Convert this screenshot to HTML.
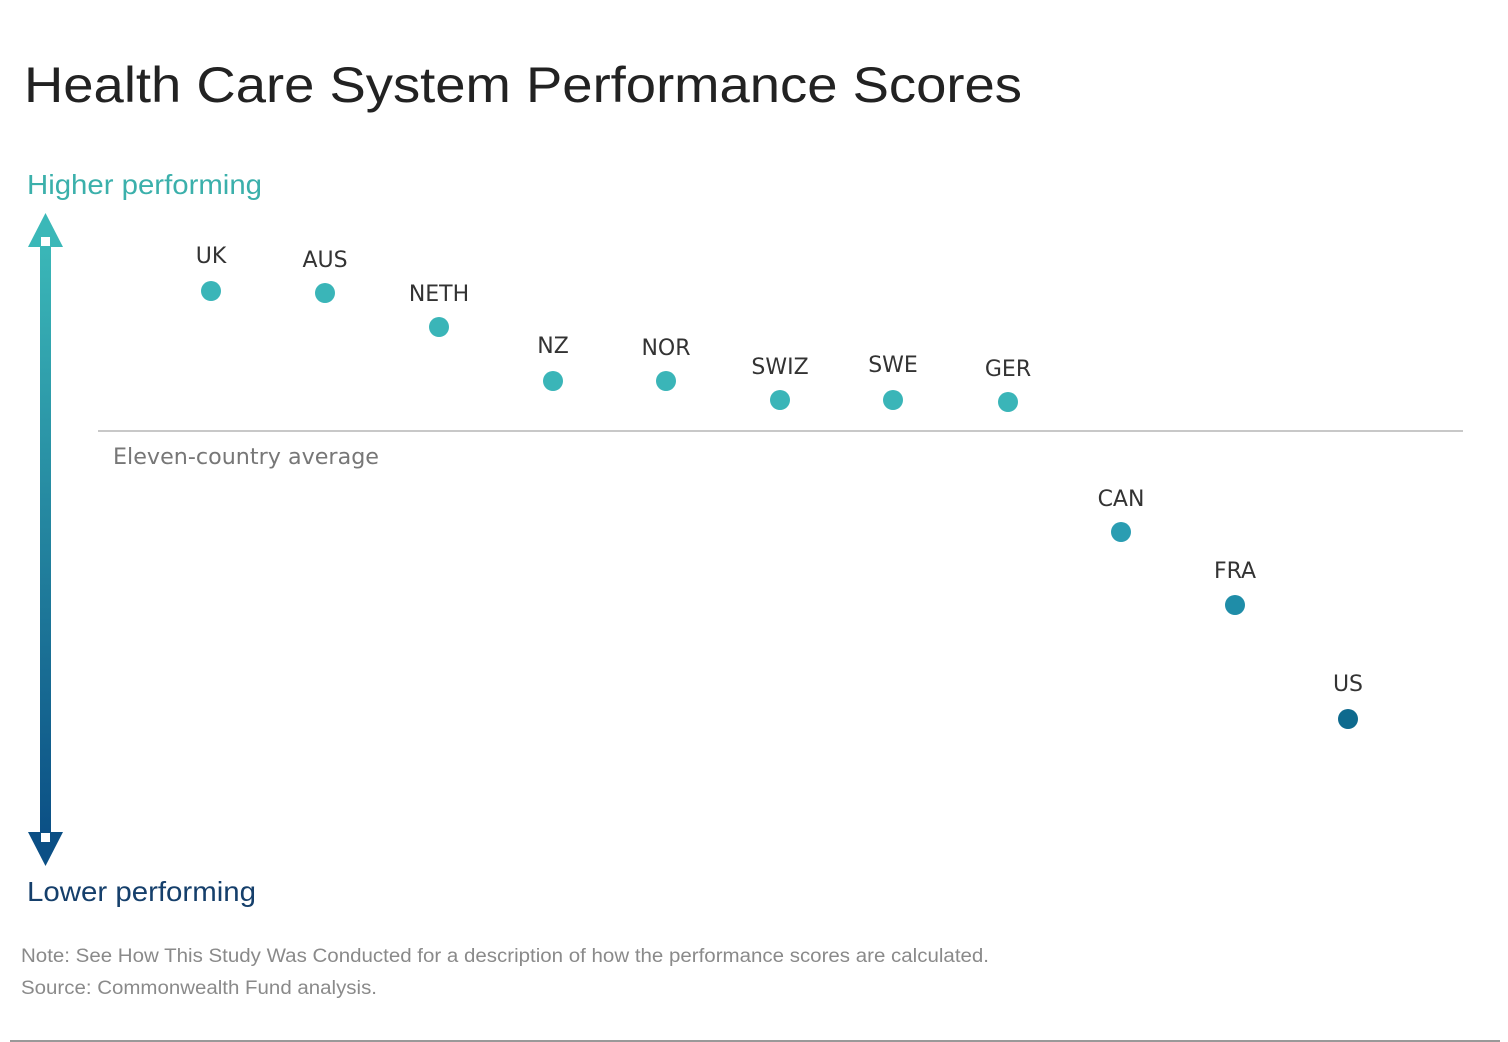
<!DOCTYPE html>
<html><head><meta charset="utf-8"><style>
html,body{margin:0;padding:0;background:#fff;}
svg{display:block;}
</style></head><body>
<svg width="1508" height="1042" viewBox="0 0 1508 1042" xmlns="http://www.w3.org/2000/svg">
<defs>
<linearGradient id="g" x1="0" y1="0" x2="0" y2="1">
<stop offset="0" stop-color="#3bb8b8"/>
<stop offset="1" stop-color="#0b4f85"/>
</linearGradient>
</defs>
<rect width="1508" height="1042" fill="#fff"/>
<text x="24" y="102" font-family="Liberation Sans, sans-serif" font-size="50" fill="#222" textLength="998" lengthAdjust="spacingAndGlyphs">Health Care System Performance Scores</text>
<text x="27" y="194" font-family="Liberation Sans, sans-serif" font-size="28" fill="#3bb0ab" textLength="235" lengthAdjust="spacingAndGlyphs">Higher performing</text>
<text x="27" y="901" font-family="Liberation Sans, sans-serif" font-size="28" fill="#153f6b" textLength="229" lengthAdjust="spacingAndGlyphs">Lower performing</text>
<rect x="40" y="240" width="11" height="598" fill="url(#g)"/>
<polygon points="45.5,213 63,247 28,247" fill="#3bb8b8"/>
<rect x="41" y="237" width="9" height="9" fill="#fff"/>
<polygon points="45.5,866 63,832 28,832" fill="#0b4f85"/>
<rect x="41" y="833" width="9" height="9" fill="#fff"/>
<line x1="98" y1="431" x2="1463" y2="431" stroke="#c8c8c8" stroke-width="2"/>
<text x="113" y="464" font-family="DejaVu Sans, sans-serif" font-size="22" fill="#777" textLength="266" lengthAdjust="spacingAndGlyphs">Eleven-country average</text>
<g font-family="DejaVu Sans, sans-serif" font-size="22" fill="#333" text-anchor="middle">
<text x="211" y="263">UK</text><circle cx="211" cy="291" r="10" fill="#3ab5b8"/>
<text x="325" y="267">AUS</text><circle cx="325" cy="293" r="10" fill="#3ab5b8"/>
<text x="439" y="301">NETH</text><circle cx="439" cy="327" r="10" fill="#3ab5b8"/>
<text x="553" y="353">NZ</text><circle cx="553" cy="381" r="10" fill="#3ab5b8"/>
<text x="666" y="355">NOR</text><circle cx="666" cy="381" r="10" fill="#3ab5b8"/>
<text x="780" y="374">SWIZ</text><circle cx="780" cy="400" r="10" fill="#3ab5b8"/>
<text x="893" y="372">SWE</text><circle cx="893" cy="400" r="10" fill="#3ab5b8"/>
<text x="1008" y="376">GER</text><circle cx="1008" cy="402" r="10" fill="#3ab5b8"/>
<text x="1121" y="506">CAN</text><circle cx="1121" cy="532" r="10" fill="#2a9db2"/>
<text x="1235" y="578">FRA</text><circle cx="1235" cy="605" r="10" fill="#1f8da8"/>
<text x="1348" y="691">US</text><circle cx="1348" cy="719" r="10" fill="#0e6a8e"/>
</g>
<text x="21" y="962" font-family="Liberation Sans, sans-serif" font-size="19" fill="#8a8a8a" textLength="968" lengthAdjust="spacingAndGlyphs">Note: See How This Study Was Conducted for a description of how the performance scores are calculated.</text>
<text x="21" y="994" font-family="Liberation Sans, sans-serif" font-size="19" fill="#8a8a8a" textLength="356" lengthAdjust="spacingAndGlyphs">Source: Commonwealth Fund analysis.</text>
<line x1="10" y1="1041" x2="1500" y2="1041" stroke="#999" stroke-width="2"/>
</svg>
</body></html>
